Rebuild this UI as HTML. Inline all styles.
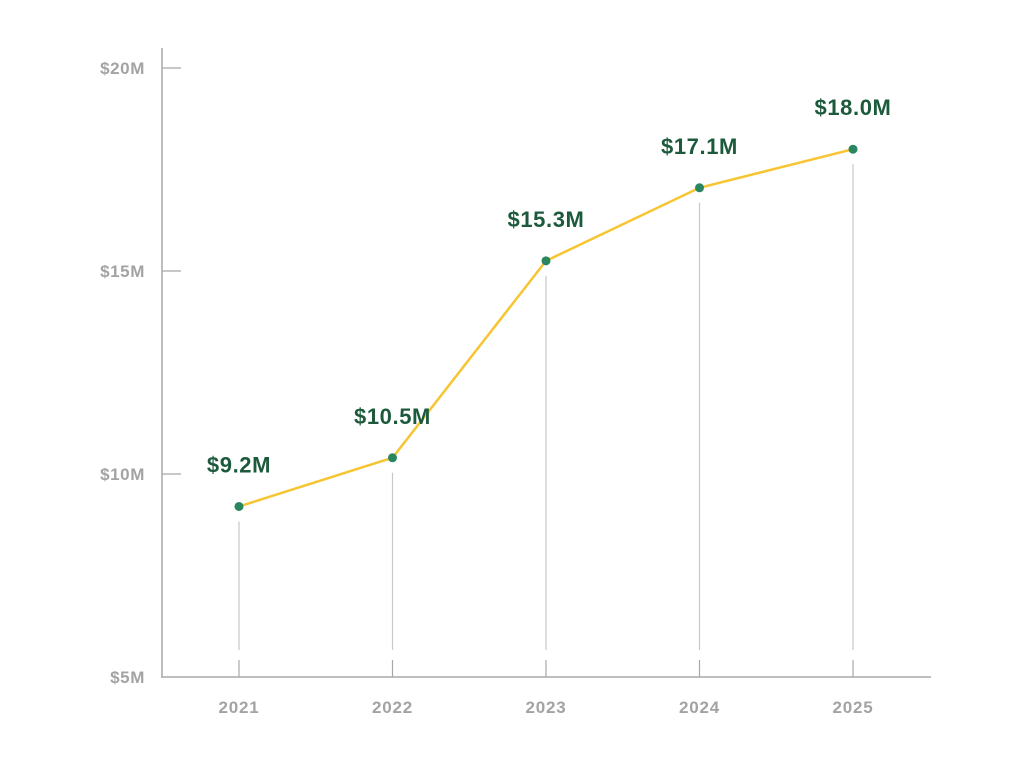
<!DOCTYPE html>
<html><head><meta charset="utf-8"><style>
body{margin:0;background:#fff;}
svg{display:block;font-family:"Liberation Sans",sans-serif;}
</style></head><body>
<svg id="chart" width="1024" height="778">
<g id="axes"></g><g id="marks"></g>
</svg>
<script>
const categories=["2021","2022","2023","2024","2025"];
const values=[9.2,10.4,15.25,17.05,18.0];
const valueLabels=["$9.2M","$10.5M","$15.3M","$17.1M","$18.0M"];
const yTicks=[5,10,15,20];
const yTickLabels=["$5M","$10M","$15M","$20M"];
const NS="http://www.w3.org/2000/svg";
const x0=239,dx=153.5,yBase=677,yPer=40.6;
const xs=i=>x0+i*dx;
const ys=v=>yBase-(v-5)*yPer;
function mk(t,a,p){const e=document.createElementNS(NS,t);for(const k in a)e.setAttribute(k,a[k]);p.appendChild(e);return e;}
const ax=document.getElementById('axes'),mg=document.getElementById('marks');
let e=mk('line',{x1:162,y1:48,x2:162,y2:677,stroke:'#a8a8a8','stroke-width':1.5},ax);

e=mk('line',{x1:161,y1:677,x2:931,y2:677,stroke:'#a8a8a8','stroke-width':1.5},ax);

yTicks.forEach((v,i)=>{
  const y=ys(v);
  if(v>5){const t=mk('line',{x1:162,y1:y,x2:181,y2:y,stroke:'#a8a8a8','stroke-width':1.2},ax);
  }
  const l=mk('text',{x:145,y:y+6,'text-anchor':'end','font-size':17,'font-weight':'bold','letter-spacing':0.6,fill:'#a3a3a3'},ax);
  l.textContent=yTickLabels[i];
  
});
categories.forEach((c,i)=>{
  const x=xs(i);
  const t=mk('line',{x1:x,y1:660,x2:x,y2:677,stroke:'#a8a8a8','stroke-width':1.2},ax);
  
  const l=mk('text',{x:x,y:713,'text-anchor':'middle','font-size':17,'font-weight':'bold','letter-spacing':0.8,fill:'#a3a3a3'},ax);
  l.textContent=c;
  
  const d=mk('line',{x1:x,y1:ys(values[i])+15,x2:x,y2:650,stroke:'#c8c8c8','stroke-width':1.2},mg);
  
});
const pl=mk('polyline',{points:values.map((v,i)=>xs(i)+','+ys(v)).join(' '),fill:'none',stroke:'#f7c531','stroke-width':2.5},mg);

values.forEach((v,i)=>{
  const c=mk('circle',{cx:xs(i),cy:ys(v),r:4.5,fill:'#2a8660'},mg);
  
  const l=mk('text',{x:xs(i),y:ys(v)-34,'text-anchor':'middle','font-size':22,'font-weight':'bold','letter-spacing':0.6,fill:'#1d5a3c'},mg);
  l.textContent=valueLabels[i];
  
});
</script>
</body></html>
